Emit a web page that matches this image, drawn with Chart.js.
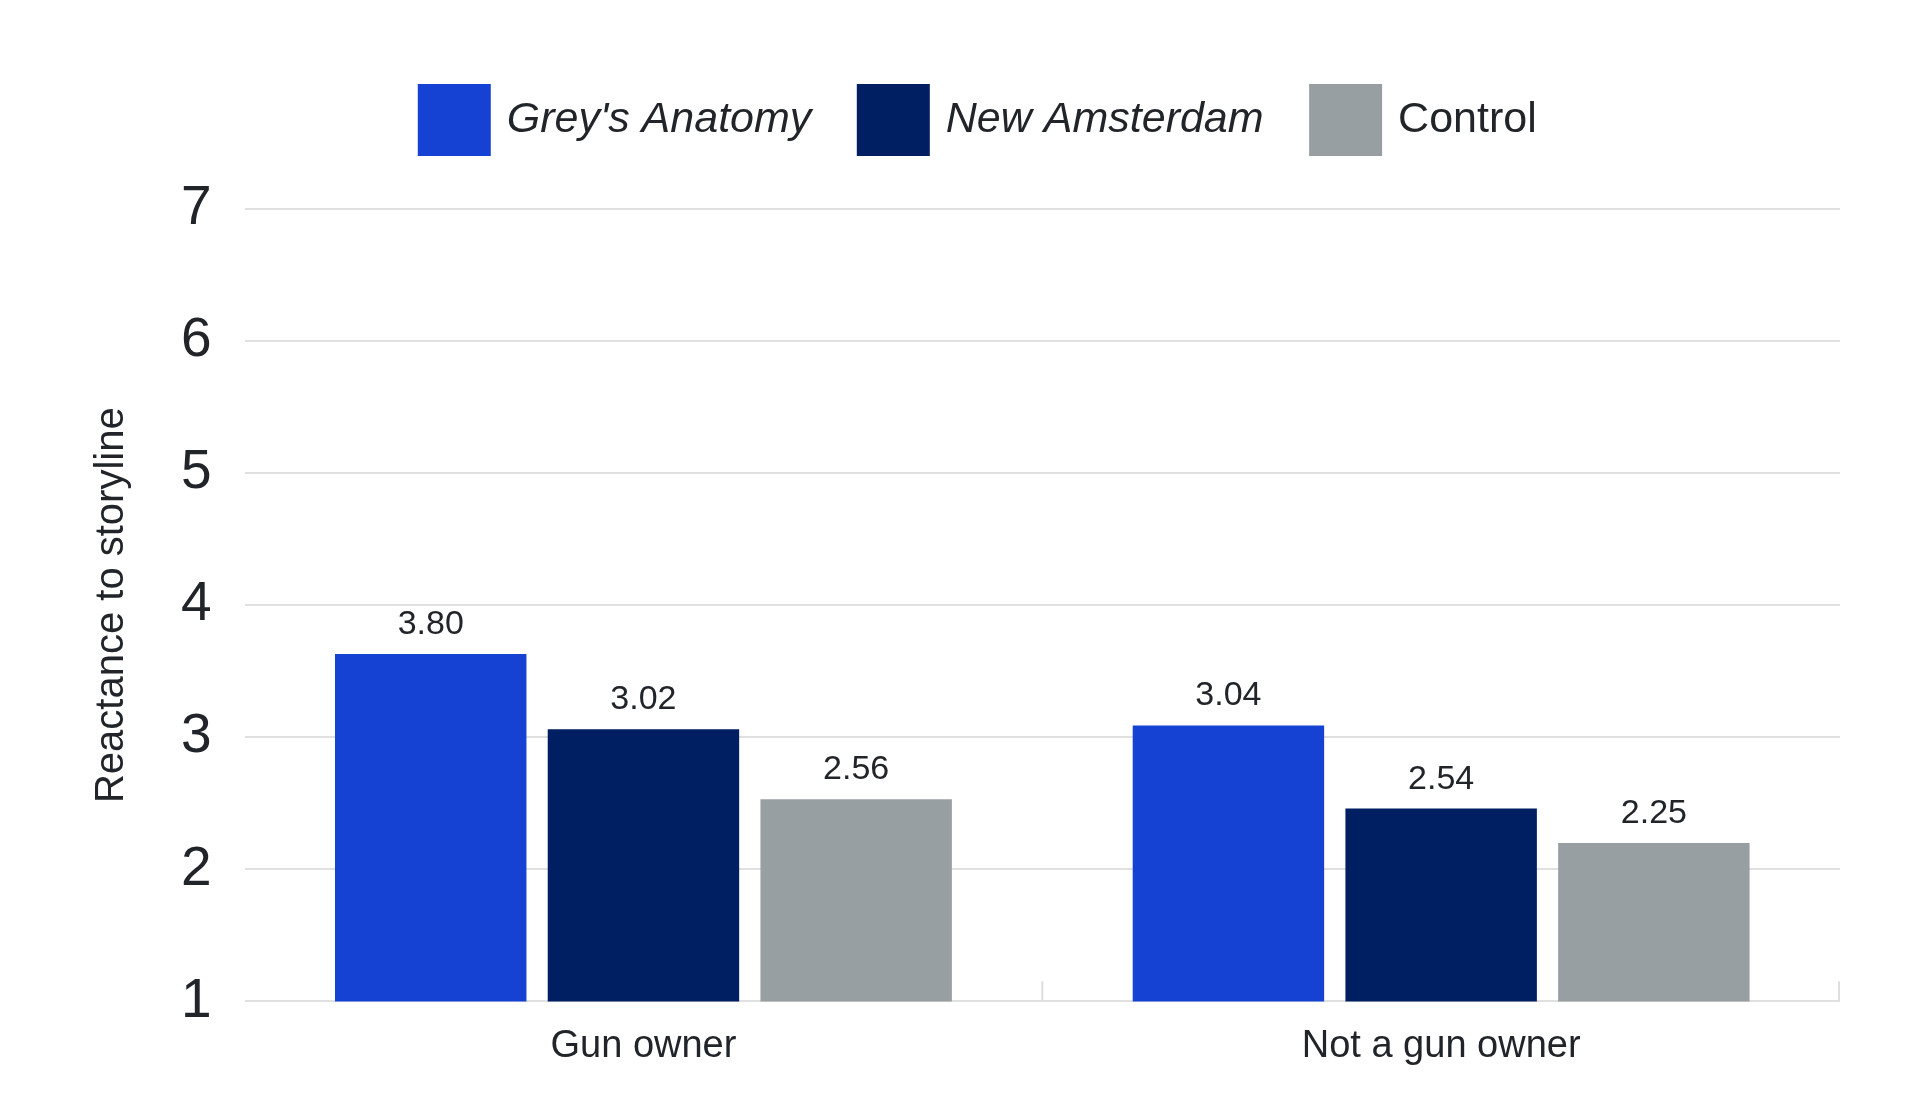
<!DOCTYPE html>
<html>
<head>
<meta charset="utf-8">
<script src="https://cdn.jsdelivr.net/npm/chart.js@4.4.1/dist/chart.umd.min.js"></script>
<style>
  html, body { margin: 0; padding: 0; background: #fff; }
  #wrap { width: 1921px; height: 1120px; position: relative; }
</style>
</head>
<body>
<div id="wrap"><canvas id="reactanceChart"></canvas></div>
<script>
// categories and series (bar heights as drawn, printed labels as shown)
const categories = ['Gun owner', 'Not a gun owner'];
const seriesNames = ["Grey's Anatomy", 'New Amsterdam', 'Control'];
const greysAnatomy = [3.63, 3.09];
const newAmsterdam = [3.06, 2.46];
const control = [2.53, 2.20];
const greysLabels = ['3.80', '3.04'];
const newAmsterdamLabels = ['3.02', '2.54'];
const controlLabels = ['2.56', '2.25'];
const yTicks = [1, 2, 3, 4, 5, 6, 7];

const colors = ['#1642D3', '#001E62', '#989FA2'];
const italicSeries = [true, true, false];
const FONT = "'Liberation Sans', Arial, sans-serif";
const TEXT = '#212529';
const LEGEND_SHIFT = 16;

// value labels above each bar
const barLabels = {
    id: 'barLabels',
    afterDatasetsDraw(chart) {
        const ctx = chart.ctx;
        const printed = [greysLabels, newAmsterdamLabels, controlLabels];
        ctx.save();
        ctx.font = '34px ' + FONT;
        ctx.fillStyle = TEXT;
        ctx.textAlign = 'center';
        ctx.textBaseline = 'alphabetic';
        chart.data.datasets.forEach((ds, di) => {
            chart.getDatasetMeta(di).data.forEach((bar, i) => {
                ctx.fillText(printed[di][i], bar.x, bar.y - 20);
            });
        });
        ctx.restore();
    }
};

// short tick marks between categories on the baseline
const categoryTicks = {
    id: 'categoryTicks',
    afterDraw(chart) {
        const ctx = chart.ctx;
        const x = chart.scales.x;
        const bottom = chart.chartArea.bottom;
        ctx.save();
        ctx.strokeStyle = '#dedede';
        ctx.lineWidth = 2;
        const marks = [];
        for (let i = 1; i < categories.length; i++) {
            marks.push((x.getPixelForValue(i - 1) + x.getPixelForValue(i)) / 2);
        }
        marks.push(chart.chartArea.right - 1);
        marks.forEach(px => {
            ctx.beginPath();
            ctx.moveTo(px, bottom - 20);
            ctx.lineTo(px, bottom);
            ctx.stroke();
        });
        ctx.restore();
    }
};

// legend text drawn by hand so the show names can be italic
const legendText = {
    id: 'legendText',
    beforeInit(chart) {
        const legend = chart.legend;
        const fit = legend.fit;
        legend.fit = function () {
            fit.call(this);
            this.height += 43;
        };
        const draw = legend.draw;
        legend.draw = function () {
            chart.ctx.save();
            chart.ctx.translate(LEGEND_SHIFT, 0);
            draw.call(this);
            chart.ctx.restore();
        };
    },
    afterDraw(chart) {
        const legend = chart.legend;
        const ctx = chart.ctx;
        const size = 43;
        ctx.save();
        ctx.fillStyle = TEXT;
        ctx.textBaseline = 'middle';
        ctx.textAlign = 'left';
        legend.legendHitBoxes.forEach((box, i) => {
            ctx.font = (italicSeries[i] ? 'italic ' : '') + size + 'px ' + FONT;
            ctx.fillText(legend.legendItems[i].text, box.left + LEGEND_SHIFT + 73 + 16, box.top + box.height / 2);
        });
        ctx.restore();
    }
};

const ctx = document.getElementById('reactanceChart').getContext('2d');
new Chart(ctx, {
    type: 'bar',
    data: {
        labels: categories,
        datasets: [
            { label: seriesNames[0], data: greysAnatomy, backgroundColor: colors[0] },
            { label: seriesNames[1], data: newAmsterdam, backgroundColor: colors[1] },
            { label: seriesNames[2], data: control, backgroundColor: colors[2] }
        ]
    },
    options: {
        responsive: true,
        maintainAspectRatio: false,
        animation: false,
        datasets: {
            bar: { categoryPercentage: 0.8, barPercentage: 0.9 }
        },
        layout: {
            padding: { top: 44, left: 88, right: 81, bottom: 37 }
        },
        plugins: {
            legend: {
                position: 'top',
                labels: {
                    boxWidth: 73,
                    boxHeight: 72,
                    padding: 40,
                    color: 'rgba(0,0,0,0)',
                    font: { family: FONT, size: 43 }
                }
            },
            tooltip: { enabled: false }
        },
        scales: {
            x: {
                grid: { display: false },
                border: { display: false },
                ticks: {
                    color: TEXT,
                    padding: 14,
                    font: { family: FONT, size: 38 }
                }
            },
            y: {
                min: 1,
                max: 7,
                afterBuildTicks(scale) {
                    scale.ticks = yTicks.map(v => ({ value: v }));
                },
                grid: { color: '#e0e0e0', lineWidth: 2, drawTicks: false },
                border: { display: false },
                ticks: {
                    color: TEXT,
                    padding: 33,
                    font: { family: FONT, size: 55 }
                },
                title: {
                    display: true,
                    text: 'Reactance to storyline',
                    color: TEXT,
                    padding: { top: 0, bottom: 12 },
                    font: { family: FONT, size: 40 }
                }
            }
        }
    },
    plugins: [barLabels, categoryTicks, legendText]
});
</script>
</body>
</html>
